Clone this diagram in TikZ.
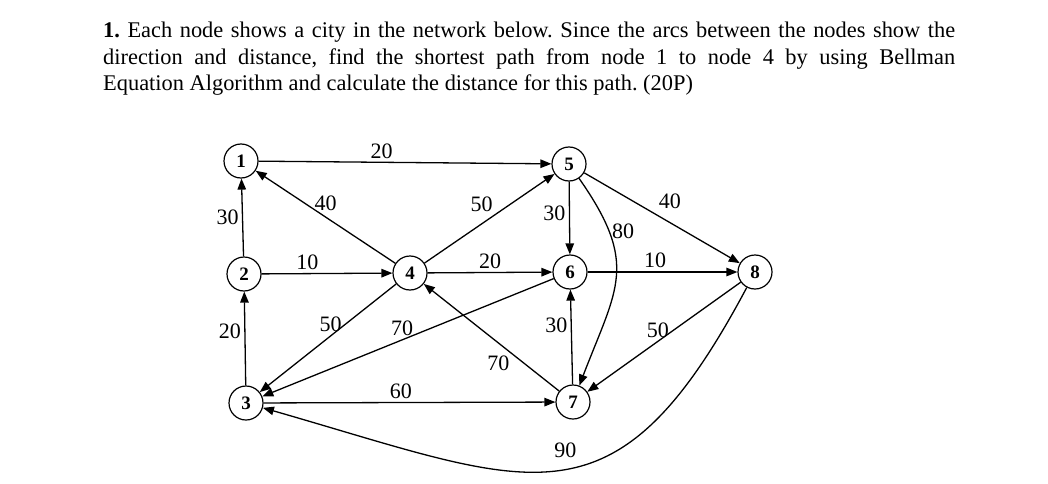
\documentclass[tikz,border=0pt]{standalone}
\usepackage{fontspec}
\setmainfont{Liberation Serif}
\usetikzlibrary{arrows.meta}
\frenchspacing

\begin{document}
\begin{tikzpicture}[x=1pt, y=1pt]
    % Node styles
    \tikzset{city node/.style={circle,draw,line width=1.2pt,minimum size=34pt,inner sep=0pt,font=\fontsize{19}{19}\selectfont\bfseries},
             arc/.style={line width=1.3pt,-{Triangle[length=11pt,width=8.5pt]}},
             dist/.style={font=\fontsize{22}{22}\selectfont}}
    
    \useasboundingbox (0,0) rectangle (1048,483);
    
    % --- Question text ---
    \node[anchor=north west, inner sep=0pt, text width=852pt, align=justify, font=\fontsize{22.4}{26.5}\selectfont] (question) at (103,461)
      {\textbf{1.} Each node shows a city in the network below. Since the arcs between the nodes show the\linebreak
       direction and distance, find the shortest path from node 1 to node 4 by using Bellman\linebreak
       Equation Algorithm and calculate the distance for this path. (20P)};
    
    % --- Left column: nodes 1, 2, 3 ---
    \node[city node] (n1) at (241, 322) {1};
    \node[city node] (n2) at (244, 209) {2};
    \node[city node] (n3) at (246, 80) {3};
    
    % --- Middle: node 4 ---
    \node[city node] (n4) at (410, 210) {4};
    
    % --- Right column: nodes 5, 6, 7 ---
    \node[city node] (n5) at (569, 319) {5};
    \node[city node] (n6) at (570, 211) {6};
    \node[city node] (n7) at (573, 81) {7};
    
    % --- Far right: node 8 ---
    \node[city node] (n8) at (755, 211) {8};
    
    % Arcs out of the left column
    \draw[arc] (n1) -- (n5) node[dist, pos=0.42, above] {20};
    \draw[arc] (n2) -- (n1) node[dist, midway, left] {30};
    \draw[arc] (n2) -- (n4) node[dist, pos=0.35, above] {10};
    \draw[arc] (n3) -- (n2) node[dist, pos=0.58, left] {20};
    \draw[arc] (n3) -- (n7) node[dist, pos=0.47, above] {60};
    
    % Arcs out of node 4
    \draw[arc] (n4) -- (n1) node[dist, midway, above=2pt] {40};
    \draw[arc] (n4) -- (n5) node[dist, midway, above=3pt, xshift=-8pt] {50};
    \draw[arc] (n4) -- (n6) node[dist, midway, above] {20};
    \draw[arc] (n4) -- (n3) node[dist, pos=0.48, above] {50};
    
    % Arcs out of node 5
    \draw[arc] (n5) -- (n6) node[dist, pos=0.43, left] {30};
    \draw[arc] (n5) -- (n8) node[dist, pos=0.55, above=10pt] {40};
    \draw[arc] (n5) to[out=-55, in=69, looseness=1.3] node[dist, pos=0.24, right=-1pt] {80} (n7);
    
    % Arcs out of nodes 6, 7, 8
    \draw[arc] (n6) -- (n8) node[dist, pos=0.45, above] {10};
    \draw[arc] (n6) -- (n3) node[dist, pos=0.52, above] {70};
    \draw[arc] (n7) -- (n6) node[dist, pos=0.62, left] {30};
    \draw[arc] (n7) -- (n4) node[dist, pos=0.45, below=9pt] {70};
    \draw[arc] (n8) -- (n7) node[dist, pos=0.54, above] {50};
    \draw[arc] (n8) to[out=-118, in=-16, looseness=1.45] node[dist, pos=0.48, above=7pt] {90} (n3);
    
  \end{tikzpicture}
\end{document}
